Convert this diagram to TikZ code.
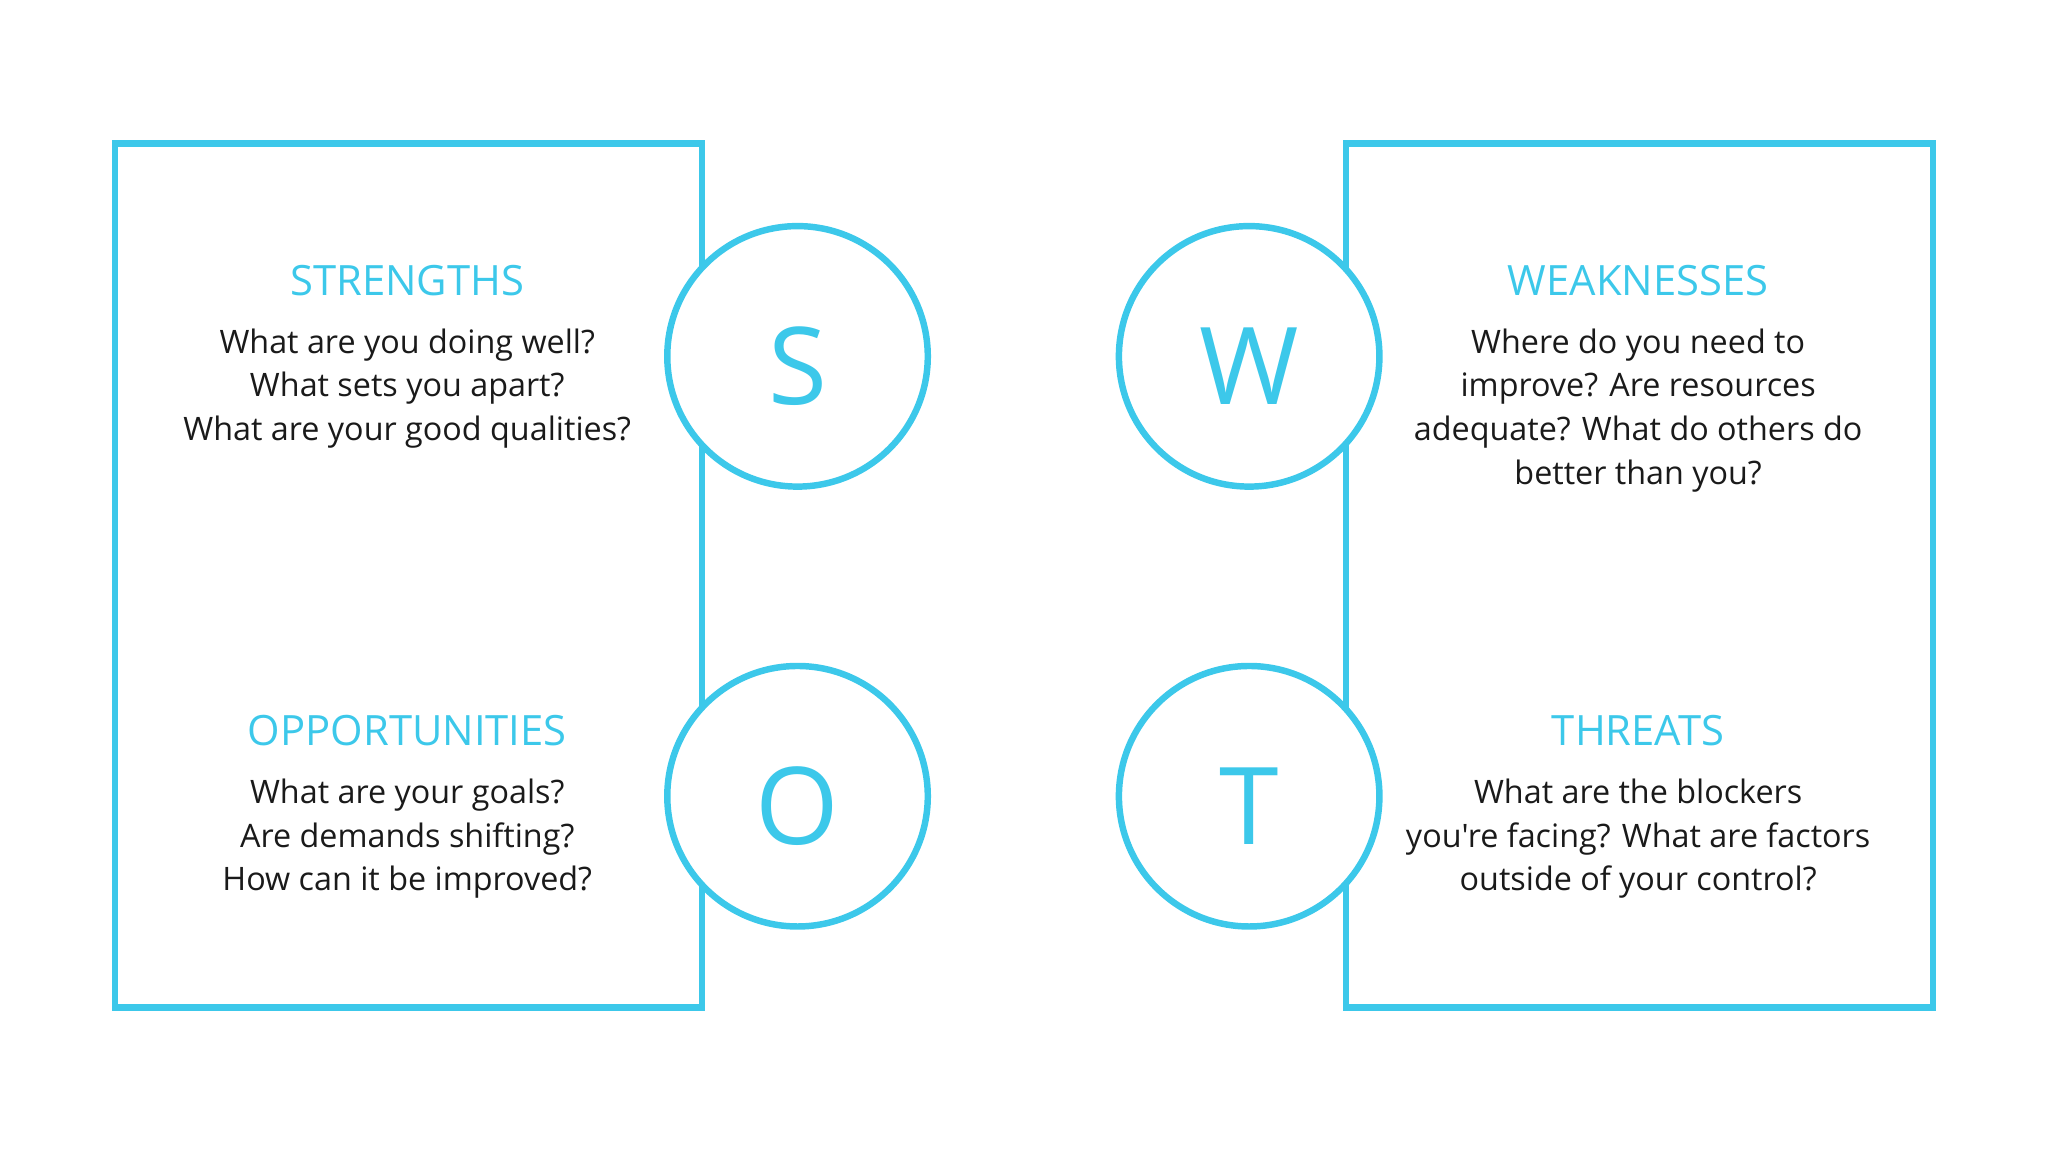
\documentclass[tikz,border=0pt]{standalone}
\usepackage{fontspec}
\setmainfont{Open Sans}[Ligatures=TeXOff]
\definecolor{sw}{HTML}{3CC8EA}
\definecolor{tx}{HTML}{1A1A1A}
\begin{document}
\begin{tikzpicture}[x=1.3128pt,y=-1.3128pt,
  frame/.style={draw=sw,line width=6.5pt},
  letter/.style={circle,draw=sw,fill=white,line width=6.5pt,minimum size=262pt,inner sep=0pt},
  glyph/.style={text=sw,font=\fontsize{108}{108}\selectfont},
  title/.style={text=sw,font=\fontsize{42}{48}\selectfont},
  body/.style={text=tx,align=center,font=\fontsize{32.5}{44}\selectfont}]
\useasboundingbox (0,0) rectangle (1569,883);
\draw[frame] (88,110) rectangle (538,772);
\draw[frame] (1031,110) rectangle (1481,772);
\node[letter] (s) at (611,273) {};
\node[letter] (w) at (957,273) {};
\node[letter] (o) at (611,610) {};
\node[letter] (t) at (957,610) {};
\node[glyph] (sl) at ([yshift=-10pt]s.center) {S};
\node[glyph] (wl) at ([yshift=-10pt]w.center) {W};
\node[glyph] (ol) at ([yshift=-10pt]o.center) {O};
\node[glyph] (tl) at ([yshift=-10pt]t.center) {T};
\node[title] (st) at (312,215) {STRENGTHS};
\node[body,anchor=north] (sb) at (312,249) {What are you doing well?\\What sets you apart?\\What are your good qualities?};
\node[title] (wt) at (1255,215) {WEAKNESSES};
\node[body,anchor=north] (wb) at (1255,249) {Where do you need to\\improve? Are resources\\adequate? What do others do\\better than you?};
\node[title] (ot) at (312,560) {OPPORTUNITIES};
\node[body,anchor=north] (ob) at (312,594) {What are your goals?\\Are demands shifting?\\How can it be improved?};
\node[title] (tt) at (1255,560) {THREATS};
\node[body,anchor=north] (tb) at (1255,594) {What are the blockers\\you're facing? What are factors\\outside of your control?};
\end{tikzpicture}
\end{document}
